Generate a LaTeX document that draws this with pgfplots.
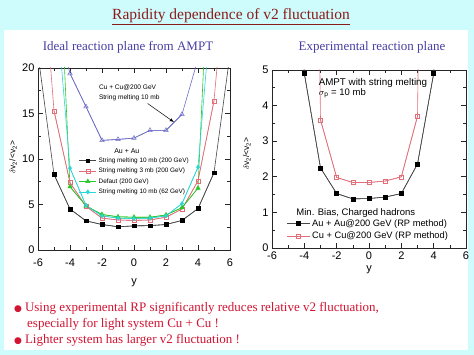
\documentclass[border=0pt]{standalone}
\usepackage{pgfplots}
\pgfplotsset{compat=1.18}
\usepackage{fontspec}
\setmainfont{Liberation Serif}
\newfontfamily\arial{Liberation Sans}
\newfontfamily\dejavu{DejaVu Sans}
\definecolor{bgcyan}{RGB}{206,251,251}
\definecolor{titlered}{RGB}{140,28,28}
\definecolor{subblue}{RGB}{72,62,165}
\definecolor{bulletred}{RGB}{210,20,50}
\definecolor{cpink}{RGB}{225,110,120}
\definecolor{cgreen}{RGB}{40,200,40}
\definecolor{ccyan}{RGB}{40,215,215}
\definecolor{cblue}{RGB}{110,110,200}
\definecolor{cgrey}{RGB}{70,70,70}
\pgfplotsset{
  slide/.style={
    scale only axis,
    anchor=south west,
    xmin=-6, xmax=6,
    xtick={-6,-4,...,6},
    minor x tick num=1,
    minor y tick num=1,
    tick align=inside,
    major tick length=5pt,
    minor tick length=3pt,
    axis line style={line width=0.7pt, black!85},
    every tick/.style={line width=0.6pt, black!85},
    tick label style={font=\arial\fontsize{11}{12}\selectfont},
    /pgf/number format/assume math mode=true,
    xlabel={y},
    ylabel={\arial\fontsize{8.5}{9}\selectfont $\delta$v\textsubscript{2}/<v\textsubscript{2}>},
    xlabel style={font=\arial\fontsize{11}{12}\selectfont},
    legend cell align=left,
  }
}
\begin{document}
\begin{tikzpicture}[x=1pt,y=1pt]
\fill[bgcyan] (0,0) rectangle (474,355);
\fill[white] (4,5) rectangle (468,325);
\node[font=\fontsize{15.5}{17}\selectfont, text=titlered] at (231,338) {\underline{Rapidity dependence of v2 fluctuation}};
\node[font=\fontsize{13}{15}\selectfont, text=subblue] at (128,308) {Ideal reaction plane from AMPT};
\node[font=\fontsize{13}{15}\selectfont, text=subblue] at (372,308) {Experimental reaction plane};
\node[anchor=base west, inner sep=0pt, font=\fontsize{13}{15}\selectfont, text=bulletred] at (14,43) {{\dejavu\fontsize{9}{10}\selectfont ●}\hspace{3pt}Using experimental RP significantly reduces relative v2 fluctuation,};
\node[anchor=base west, inner sep=0pt, font=\fontsize{13}{15}\selectfont, text=bulletred] at (27,27) {especially for light system Cu + Cu !};
\node[anchor=base west, inner sep=0pt, font=\fontsize{13}{15}\selectfont, text=bulletred] at (14,11) {{\dejavu\fontsize{9}{10}\selectfont ●}\hspace{3pt}Lighter system has larger v2 fluctuation !};

% ---------------- left axis ----------------
\begin{axis}[slide,
  at={(38pt,105pt)}, width=192pt, height=182pt,
  ymin=0, ymax=20, ytick={0,5,...,20},
  xticklabel style={yshift=-5pt},
  xlabel style={at={(axis description cs:0.5,-0.18)}, anchor=center},
  ylabel style={at={(axis description cs:-0.13,0.51)}, anchor=center},
  legend style={at={(axis cs:-3.45,10.4)}, anchor=north west, draw=none, fill=none,
    font=\arial\fontsize{6.4}{7}\selectfont, row sep=0.3pt, inner sep=0pt},
]
% full lines incl. points beyond the frame
\addplot[cgrey, line width=0.6pt, forget plot] coordinates {(-6,21.5)(-5,8.3)(-4,4.5)(-3,3.2)(-2,2.8)(-1,2.55)(0,2.65)(1,2.68)(2,2.8)(3,3.25)(4,4.55)(5,8.5)(6,21.5)};
\addplot[cpink, line width=0.6pt, forget plot] coordinates {(-6,38)(-5,15.3)(-4,7.4)(-3,4.8)(-2,3.5)(-1,3.3)(0,3.25)(1,3.3)(2,3.6)(3,4.5)(4,7.6)(5,16.4)(6,36)};
\addplot[cgreen, line width=0.6pt, forget plot] coordinates {(-5,45)(-4,6.95)(-3,4.85)(-2,3.9)(-1,3.65)(0,3.6)(1,3.6)(2,3.85)(3,4.65)(4,6.8)(5,45)};
\addplot[ccyan, line width=0.6pt, forget plot] coordinates {(-5,30)(-4,9.0)(-3,4.9)(-2,3.75)(-1,3.5)(0,3.45)(1,3.5)(2,3.75)(3,5.1)(4,9.1)(5,30)};
\addplot[cblue, line width=0.6pt, forget plot] coordinates {(-5,26)(-4,19.4)(-3,15.75)(-2,12.05)(-1,12.15)(0,12.3)(1,13.15)(2,13.15)(3,14.9)(4,21)};
% Cu+Cu
\addplot[cblue, line width=0.6pt, mark=triangle, mark size=2.6pt, mark options={solid, line width=0.5pt}, forget plot]
  coordinates {(-4,19.4)(-3,15.75)(-2,12.05)(-1,12.15)(0,12.3)(1,13.15)(2,13.15)(3,14.9)};
% Au+Au
\addplot[cgrey, line width=0.6pt, mark=square*, mark size=1.8pt, mark options={black}]
  coordinates {(-5,8.3)(-4,4.5)(-3,3.2)(-2,2.8)(-1,2.55)(0,2.65)(1,2.68)(2,2.8)(3,3.25)(4,4.55)(5,8.5)};
\addlegendentry{String melting 10 mb (200 GeV)}
\addplot[cpink, line width=0.6pt, mark=square, mark size=2pt, mark options={line width=0.5pt}]
  coordinates {(-5,15.3)(-4,7.4)(-3,4.8)(-2,3.5)(-1,3.3)(0,3.25)(1,3.3)(2,3.6)(3,4.5)(4,7.6)(5,16.4)};
\addlegendentry{String melting 3 mb (200 GeV)}
\addplot[cgreen, line width=0.6pt, mark=triangle*, mark size=2.4pt]
  coordinates {(-4,6.95)(-3,4.85)(-2,3.9)(-1,3.65)(0,3.6)(1,3.6)(2,3.85)(3,4.65)(4,6.8)};
\addlegendentry{Defaut (200 GeV)}
\addplot[ccyan, line width=0.6pt, mark=diamond*, mark size=2pt]
  coordinates {(-4,9.0)(-3,4.9)(-2,3.75)(-1,3.5)(0,3.45)(1,3.5)(2,3.75)(3,5.1)(4,9.1)};
\addlegendentry{String melting 10 mb (62 GeV)}
\node[font=\arial\fontsize{7}{8}\selectfont] at (axis cs:-0.45,10.9) {Au + Au};
\node[anchor=west, align=left, inner sep=0pt, font=\arial\fontsize{6.6}{10}\selectfont] at (axis cs:-2.2,17.3) {Cu + Cu@200 GeV\\String melting 10 mb};
\draw[-latex, line width=0.5pt] (axis cs:0.85,16.1) -- (axis cs:2.5,14.05);
\end{axis}

% ---------------- right axis ----------------
\begin{axis}[slide,
  at={(272pt,107pt)}, width=194pt, height=178pt,
  ymin=0, ymax=5, ytick={0,1,...,5},
  xlabel style={at={(axis description cs:0.5,-0.12)}, anchor=center},
  ylabel style={at={(axis description cs:-0.13,0.53)}, anchor=center},
  legend image code/.code={\draw[mark repeat=2,mark phase=2] plot coordinates {(0cm,0cm)(0.4cm,0cm)(0.8cm,0cm)};},
  legend style={at={(axis cs:-5.1,0.86)}, anchor=north west, draw=none, fill=none,
    font=\arial\fontsize{9.3}{10}\selectfont, row sep=0pt, inner sep=0pt},
]
\addplot[cgrey, line width=0.6pt, forget plot] coordinates {(-5,15)(-4,4.9)(-3,2.25)(-2,1.53)(-1,1.38)(0,1.39)(1,1.43)(2,1.53)(3,2.36)(4,4.9)(5,15)};
\addplot[cpink, line width=0.6pt, forget plot] coordinates {(-4,40)(-3,3.6)(-2,1.98)(-1,1.84)(0,1.84)(1,1.88)(2,2.0)(3,3.7)(4,40)};
\addplot[cgrey, line width=0.6pt, mark=square*, mark size=2pt, mark options={black}]
  coordinates {(-4,4.9)(-3,2.25)(-2,1.53)(-1,1.38)(0,1.39)(1,1.43)(2,1.53)(3,2.36)(4,4.9)};
\addlegendentry{Au + Au@200 GeV (RP method)}
\addplot[cpink, line width=0.6pt, mark=square, mark size=2pt, mark options={line width=0.5pt}]
  coordinates {(-3,3.6)(-2,1.98)(-1,1.84)(0,1.84)(1,1.88)(2,2.0)(3,3.7)};
\addlegendentry{Cu + Cu@200 GeV (RP method)}
\node[anchor=west, inner sep=0pt, font=\arial\fontsize{9.5}{10}\selectfont] at (axis cs:-4.5,0.99) {Min. Bias, Charged hadrons};
\node[anchor=west, inner sep=0pt, font=\arial\fontsize{9.8}{10}\selectfont] at (axis cs:-3.12,4.63) {AMPT with string melting};
\node[anchor=west, inner sep=0pt, font=\arial\fontsize{9.5}{10}\selectfont] at (axis cs:-3.12,4.35) {$\sigma$\textsubscript{p} = 10 mb};
\end{axis}
\end{tikzpicture}
\end{document}
